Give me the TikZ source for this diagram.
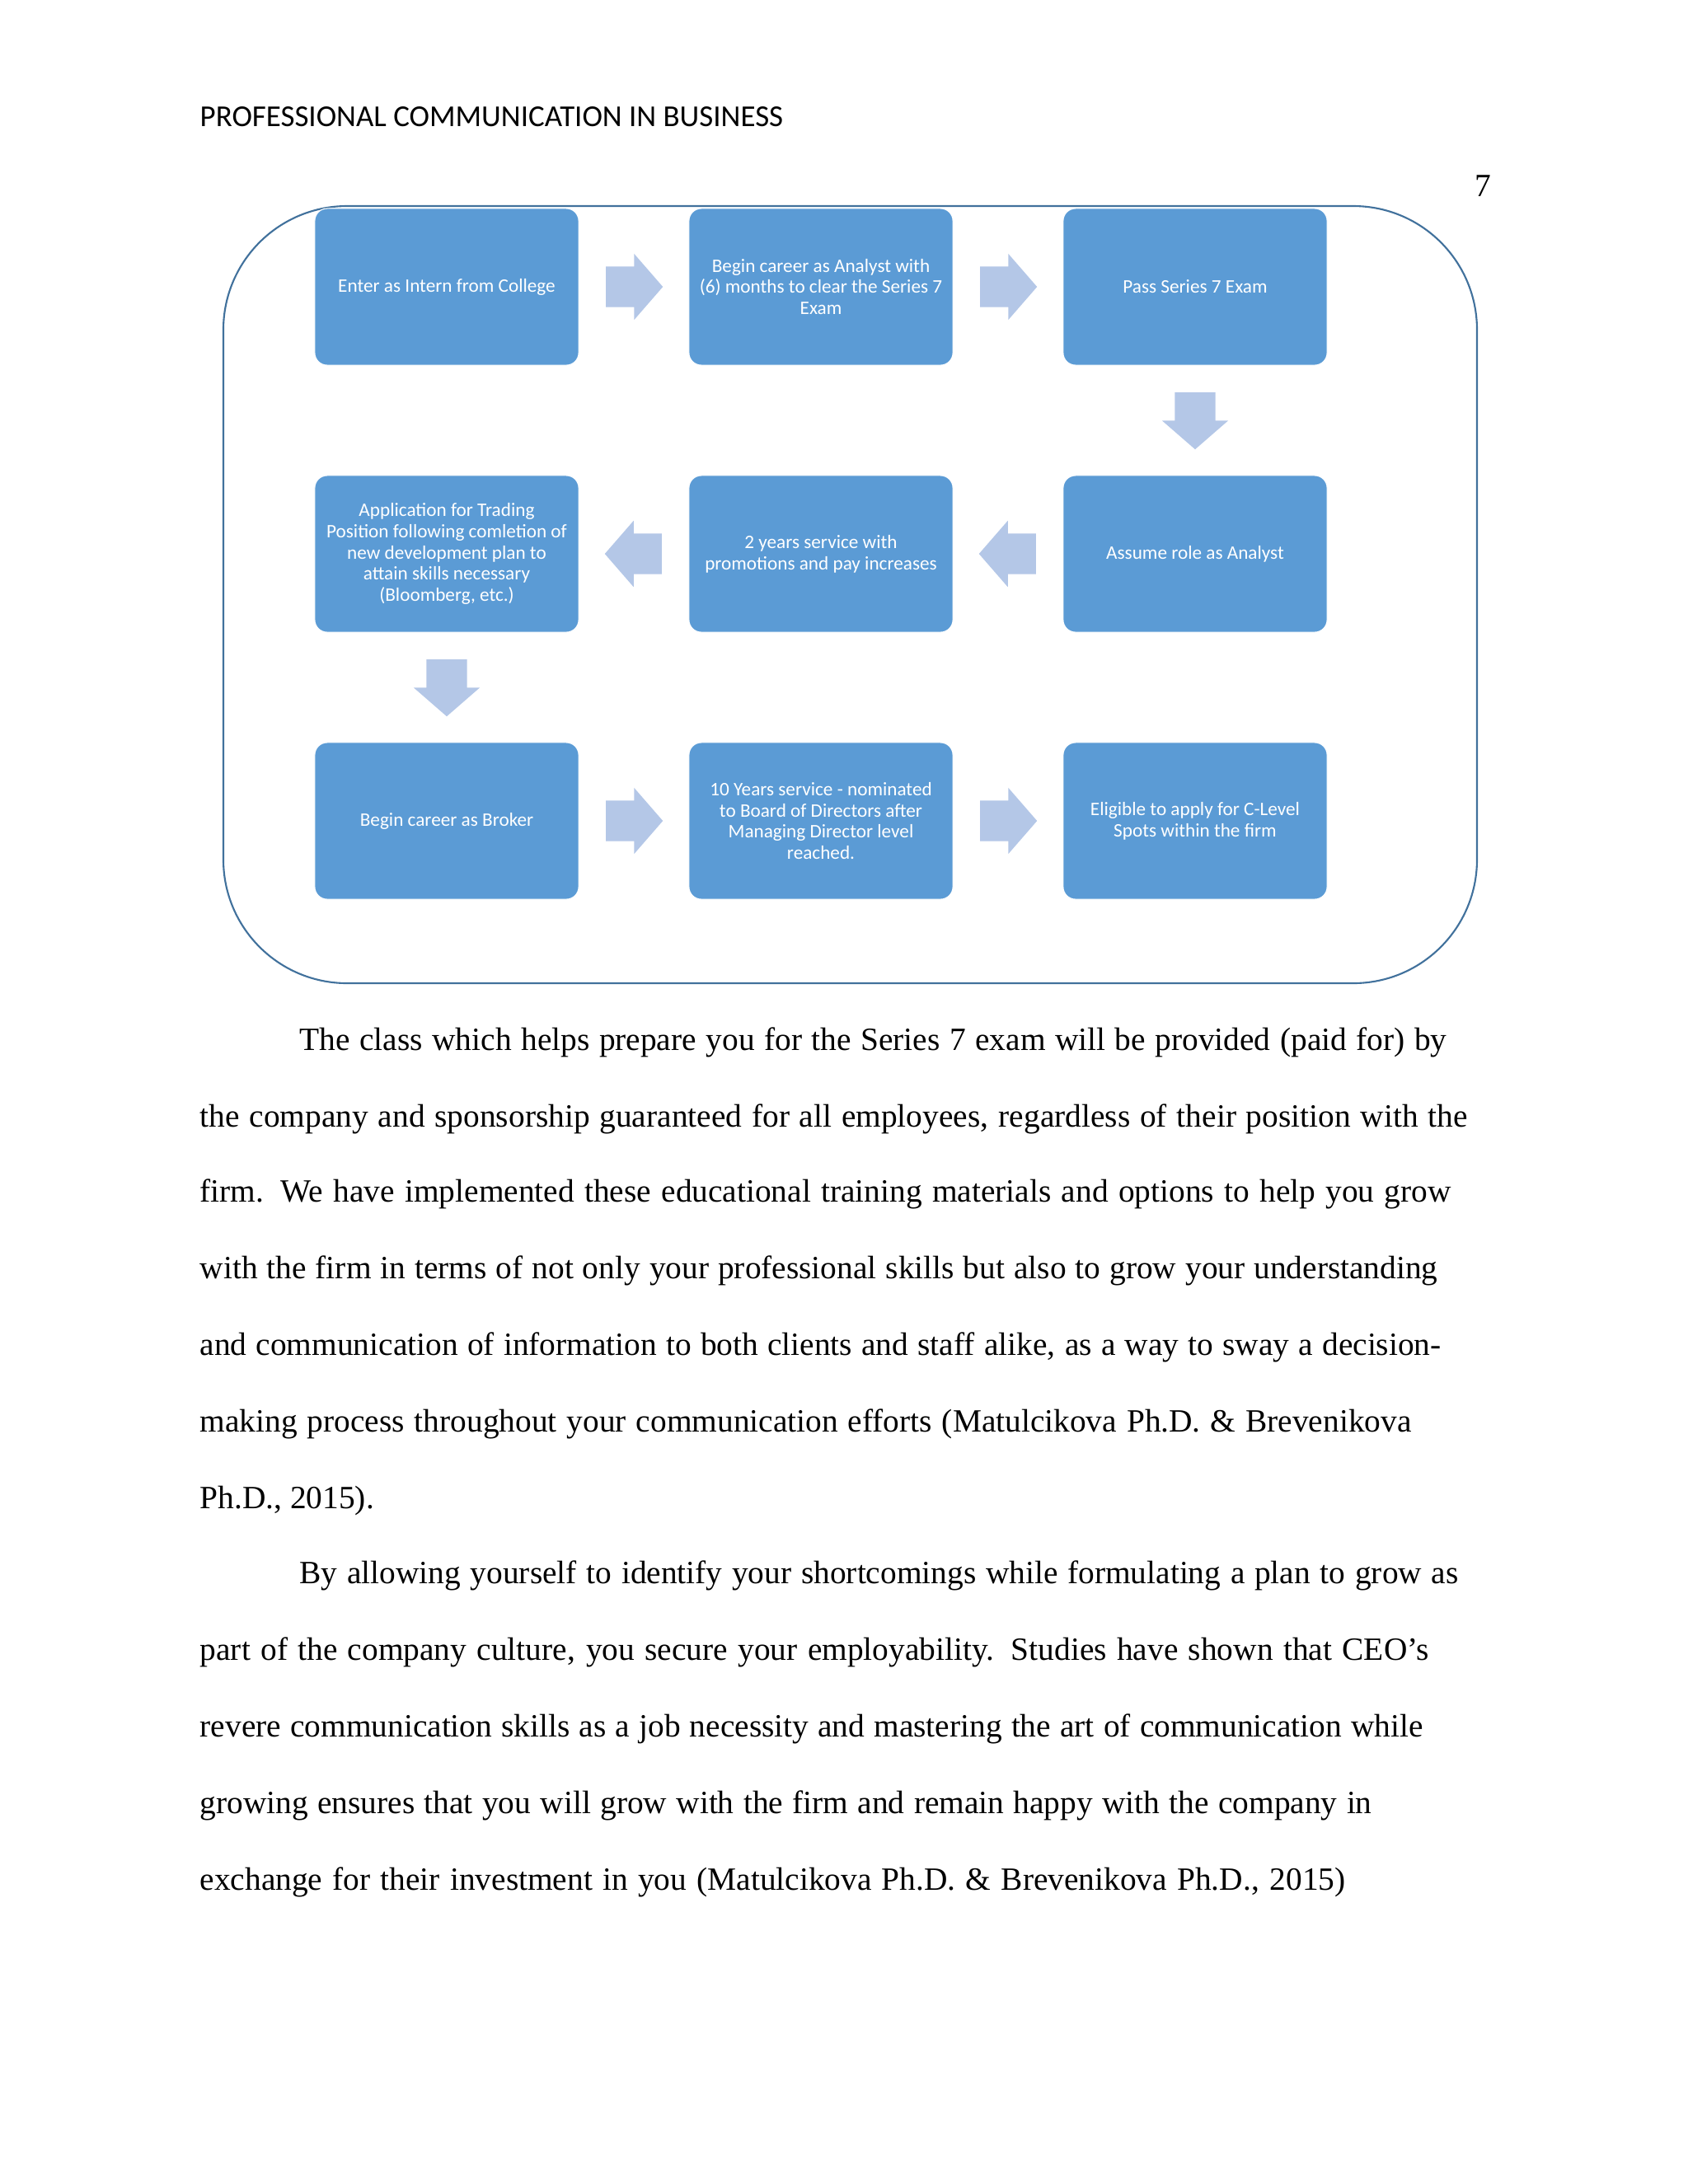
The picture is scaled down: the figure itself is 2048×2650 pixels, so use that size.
\documentclass[tikz,border=0pt]{standalone}
\usepackage{fontspec}
\setmainfont{Liberation Serif}
\newfontfamily\calibri{Carlito}
\usetikzlibrary{shapes.arrows,calc}

\definecolor{boxblue}{HTML}{5B9BD5}
\definecolor{arrowblue}{HTML}{B4C7E7}
\definecolor{framecol}{HTML}{41719C}

\tikzset{
  stepbox/.style={rectangle, rounded corners=0.15cm, fill=boxblue, draw=white,
    line width=0.3pt, minimum width=3.2cm, minimum height=1.9cm, inner sep=0pt,
    align=center, text=white, font=\calibri\fontsize{6.6}{7.35}\selectfont},
  blockarrow/.style={single arrow, fill=arrowblue, draw=none, anchor=tail,
    inner xsep=0pt, inner ysep=0.24cm,
    minimum height=0.69cm, minimum width=0.79cm,
    single arrow head extend=0.155cm, single arrow tip angle=98},
  bodyline/.style={anchor=base west, inner sep=0pt, font=\fontsize{11.2}{13}\selectfont},
}

\begin{document}
\begin{tikzpicture}[x=0.01cm,y=-0.01cm]
\useasboundingbox (0,0) rectangle (2048,2650);
\fill[white] (0,0) rectangle (2048,2650);

% running head and page number
\node[anchor=base west, inner sep=0pt, font=\calibri\fontsize{10.5}{12}\selectfont] (head) at (242,153) {PROFESSIONAL COMMUNICATION IN BUSINESS};
\node[anchor=base east, inner sep=0pt, font=\fontsize{11.2}{13}\selectfont] (pagenum) at (1810,238) {7};

% frame round the steps
\draw[framecol, line width=0.6pt, rounded corners=1.5cm] (271,250) rectangle (1792,1193);

% row 1
\node[stepbox] (intern) at (542,348) {Enter as Intern from College};
\node[stepbox] (analyst) at (996,348) {Begin career as Analyst with\\(6) months to clear the Series 7\\Exam};
\node[stepbox] (exam) at (1450,348) {Pass Series 7 Exam};

% row 2
\node[stepbox] (assume) at (1450,672) {Assume role as Analyst};
\node[stepbox] (service) at (996,672) {2 years service with\\promotions and pay increases};
\node[stepbox] (trading) at (542,672) {Application for Trading\\Position following comletion of\\new development plan to\\attain skills necessary\\(Bloomberg, etc.)};

% row 3
\node[stepbox] (broker) at (542,996) {Begin career as Broker};
\node[stepbox] (board) at (996,996) {10 Years service - nominated\\to Board of Directors after\\Managing Director level\\reached.};
\node[stepbox] (clevel) at (1450,996) {Eligible to apply for C-Level\\Spots within the firm};

% block arrows, tail half a length back from the gap's middle
\node[blockarrow] (a1) at ($(intern.east)!0.5!(analyst.west)!0.345cm!(intern.east)$) {};
\node[blockarrow] (a2) at ($(analyst.east)!0.5!(exam.west)!0.345cm!(analyst.east)$) {};
\node[blockarrow, rotate=-90] (a3) at ($(exam.south)!0.5!(assume.north)!0.345cm!(exam.south)$) {};
\node[blockarrow, rotate=180] (a4) at ($(assume.west)!0.5!(service.east)!0.345cm!(assume.west)$) {};
\node[blockarrow, rotate=180] (a5) at ($(service.west)!0.5!(trading.east)!0.345cm!(service.west)$) {};
\node[blockarrow, rotate=-90] (a6) at ($(trading.south)!0.5!(broker.north)!0.345cm!(trading.south)$) {};
\node[blockarrow] (a7) at ($(broker.east)!0.5!(board.west)!0.345cm!(broker.east)$) {};
\node[blockarrow] (a8) at ($(board.east)!0.5!(clevel.west)!0.345cm!(board.east)$) {};

% body text
\node[bodyline] (l1) at (363,1274) {\makebox[13.91cm][s]{The class which helps prepare you for the Series 7 exam will be provided (paid for) by}};
\node[bodyline] (l2) at (242,1367) {\makebox[15.37cm][s]{the company and sponsorship guaranteed for all employees, regardless of their position with the}};
\node[bodyline] (l3) at (242,1458) {\makebox[15.17cm][s]{firm. We have implemented these educational training materials and options to help you grow}};
\node[bodyline] (l4) at (242,1551) {\makebox[15.01cm][s]{with the firm in terms of not only your professional skills but also to grow your understanding}};
\node[bodyline] (l5) at (242,1644) {\makebox[15.05cm][s]{and communication of information to both clients and staff alike, as a way to sway a decision-}};
\node[bodyline] (l6) at (242,1737) {\makebox[14.69cm][s]{making process throughout your communication efforts (Matulcikova Ph.D. \& Brevenikova}};
\node[bodyline] (l7) at (242,1830) {Ph.D., 2015).};
\node[bodyline] (l8) at (363,1921) {\makebox[14.05cm][s]{By allowing yourself to identify your shortcomings while formulating a plan to grow as}};
\node[bodyline] (l9) at (242,2014) {\makebox[14.90cm][s]{part of the company culture, you secure your employability. Studies have shown that CEO’s}};
\node[bodyline] (l10) at (242,2107) {\makebox[14.83cm][s]{revere communication skills as a job necessity and mastering the art of communication while}};
\node[bodyline] (l11) at (242,2200) {\makebox[14.21cm][s]{growing ensures that you will grow with the firm and remain happy with the company in}};
\node[bodyline] (l12) at (242,2293) {\makebox[13.89cm][s]{exchange for their investment in you (Matulcikova Ph.D. \& Brevenikova Ph.D., 2015)}};

\end{tikzpicture}
\end{document}
